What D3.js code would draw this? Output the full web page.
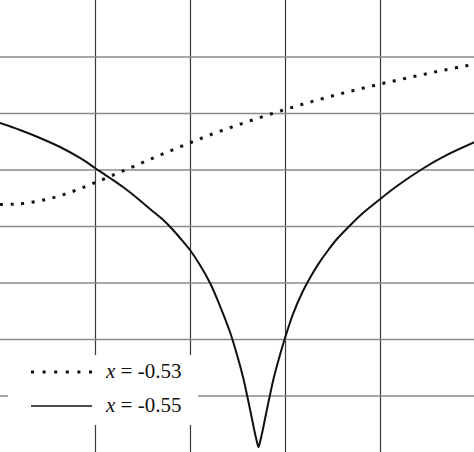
<!DOCTYPE html>
<html>
<head>
<meta charset="utf-8">
<script src="https://cdn.jsdelivr.net/npm/d3@7"></script>
<style>
  html, body { margin: 0; padding: 0; background: #fff; }
  svg { display: block; }
  .legend-text { font-family: "Liberation Serif", "DejaVu Serif", Times, serif; }
</style>
</head>
<body>
<svg id="chart"></svg>
<script>
// grid units: 5 columns x 8 rows, no tick labels in the original
const xTicks = [1, 2, 3, 4];
const yTicks = [1, 2, 3, 4, 5, 6, 7];

const seriesLabels = ["-0.53", "-0.55"];

// x = -0.53 (dotted)
const dotX = [0, 0.126, 0.242, 0.484, 0.705, 0.926, 1.137, 1.358, 1.568, 1.768, 1.989, 2.2, 2.432, 2.642, 2.874, 3.095, 3.316, 3.537, 3.758, 3.989, 4.221, 4.453, 4.674, 4.905, 5.0];
const dotY = [4.381, 4.384, 4.398, 4.469, 4.575, 4.717, 4.862, 5.021, 5.172, 5.313, 5.465, 5.605, 5.747, 5.867, 5.995, 6.11, 6.218, 6.319, 6.414, 6.508, 6.596, 6.681, 6.759, 6.835, 6.862];

// x = -0.55 (solid)
const solidX = [0, 0.211, 0.421, 0.632, 0.842, 1.0, 1.158, 1.295, 1.442, 1.579, 1.716, 1.805, 1.895, 2.0, 2.105, 2.211, 2.316, 2.421, 2.495, 2.558, 2.6, 2.642, 2.674, 2.7, 2.721,
                2.742, 2.768, 2.8, 2.842, 2.884, 2.947, 3.0, 3.084, 3.189, 3.279, 3.368, 3.458, 3.547, 3.684, 3.821, 3.989, 4.179, 4.453, 4.705, 5.0];
const solidY = [5.823, 5.699, 5.558, 5.398, 5.204, 5.027, 4.85, 4.69, 4.496, 4.301, 4.11, 3.96, 3.788, 3.575, 3.31, 2.991, 2.584, 2.124, 1.717, 1.327, 1.009, 0.673, 0.407, 0.212, 0.088,
                0.212, 0.407, 0.673, 1.009, 1.327, 1.717, 2.018, 2.442, 2.85, 3.13, 3.37, 3.58, 3.77, 4.01, 4.23, 4.46, 4.708, 5.018, 5.257, 5.487];

const width = 474;
const height = 452;

const svg = d3.select("#chart")
    .attr("width", width)
    .attr("height", height);

const x = d3.scaleLinear().domain([0, 5]).range([0, 475]);
const y = d3.scaleLinear().domain([0, 8]).range([height, 0]);

// vertical grid
svg.append("g")
    .attr("transform", `translate(0, ${height})`)
    .call(d3.axisBottom(x).tickValues(xTicks).tickSize(-height).tickFormat(""))
    .call(g => g.select(".domain").remove())
    .call(g => g.selectAll("line").attr("stroke", "#3a3a3a").attr("stroke-width", 1.2));

// horizontal grid
svg.append("g")
    .call(d3.axisLeft(y).tickValues(yTicks).tickSize(-width).tickFormat(""))
    .call(g => g.select(".domain").remove())
    .call(g => g.selectAll("line").attr("stroke", "#8a8a8a").attr("stroke-width", 1.7));

const line = d3.line()
    .x(d => x(d[0]))
    .y(d => y(d[1]))
    .curve(d3.curveCatmullRom.alpha(0.5));

svg.append("path")
    .datum(d3.zip(dotX, dotY))
    .attr("fill", "none")
    .attr("stroke", "#111")
    .attr("stroke-width", 3)
    .attr("stroke-dasharray", "3,7.6")
    .attr("d", line);

svg.append("path")
    .datum(d3.zip(solidX, solidY))
    .attr("fill", "none")
    .attr("stroke", "#111")
    .attr("stroke-width", 2)
    .attr("d", line);

// legend
const legend = svg.append("g");

legend.append("rect")
    .attr("x", 8).attr("y", 355)
    .attr("width", 190).attr("height", 70)
    .attr("fill", "#fff");

const rows = legend.selectAll("g.row")
    .data(seriesLabels)
    .join("g")
    .attr("class", "row")
    .attr("transform", (d, i) => `translate(0, ${372 + i * 34})`);

rows.append("line")
    .attr("x1", 31).attr("x2", 92)
    .attr("stroke", "#111")
    .attr("stroke-width", (d, i) => i === 0 ? 3 : 1.5)
    .attr("stroke-dasharray", (d, i) => i === 0 ? "3,8.6" : null);

const label = rows.append("text")
    .attr("class", "legend-text")
    .attr("x", 106)
    .attr("y", 6)
    .attr("font-size", 21)
    .attr("fill", "#111");

label.append("tspan").attr("font-style", "italic").text("x");
label.append("tspan").text(d => ` = ${d}`);
</script>
</body>
</html>
